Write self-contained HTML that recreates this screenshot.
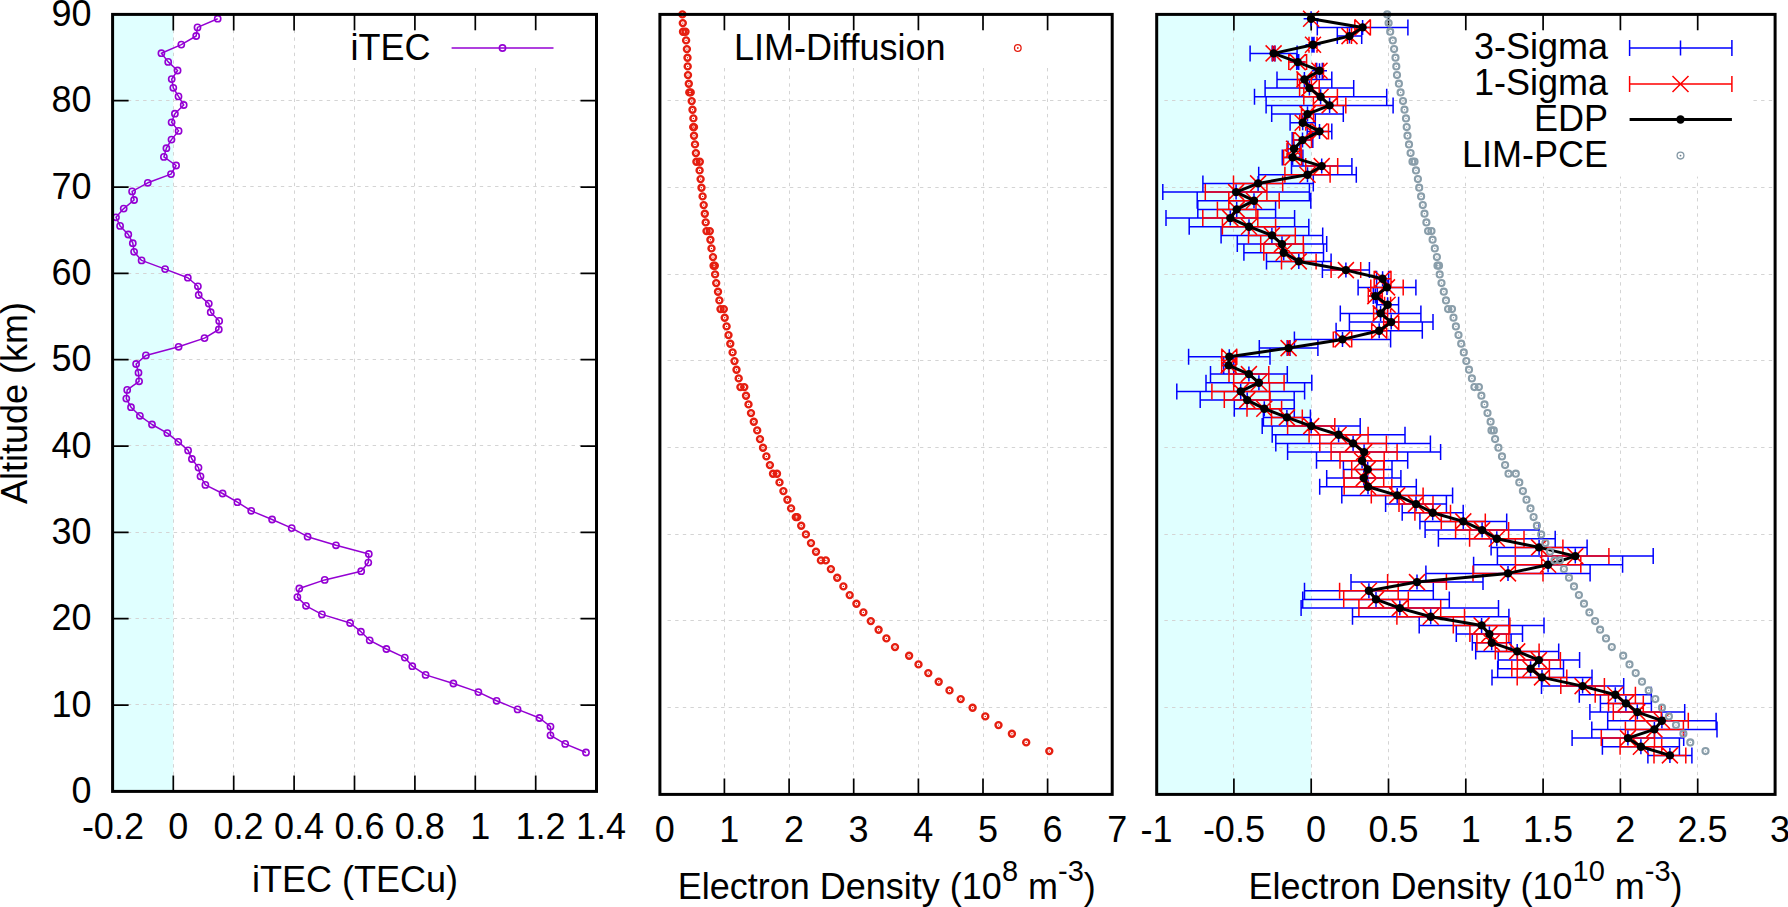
<!DOCTYPE html>
<html lang="en"><head><meta charset="utf-8"><title>Electron density profiles</title>
<style>html,body{margin:0;padding:0;background:#fff;}svg{display:block;}</style></head><body>
<svg width="1788" height="907" viewBox="0 0 1788 907" font-family="'Liberation Sans', sans-serif" font-size="36px">
<rect x="0" y="0" width="1788" height="907" fill="#fff"/>
<rect x="112.6" y="14.4" width="60.7" height="777" fill="#e0ffff"/>
<path d="M173.5 22.1V789.4M233.5 22.1V789.4M294.5 22.1V789.4M354.5 22.1V789.4M414.5 22.1V789.4M475.5 22.1V789.4M535.5 22.1V789.4M120.2 704.5H594.5M120.2 618.5H594.5M120.2 532.5H594.5M120.2 445.5H594.5M120.2 359.5H594.5M120.2 273.5H594.5M120.2 186.5H594.5M120.2 100.5H594.5" stroke="#d4d4d4" stroke-width="1" stroke-dasharray="3.4 4.25" fill="none"/>
<path d="M173.3 14.4v16M173.3 791.4v-16M233.7 14.4v16M233.7 791.4v-16M294.1 14.4v16M294.1 791.4v-16M354.5 14.4v16M354.5 791.4v-16M414.9 14.4v16M414.9 791.4v-16M475.3 14.4v16M475.3 791.4v-16M535.7 14.4v16M535.7 791.4v-16M112.6 705.1h16M596.5 705.1h-16M112.6 618.7h16M596.5 618.7h-16M112.6 532.4h16M596.5 532.4h-16M112.6 446.1h16M596.5 446.1h-16M112.6 359.7h16M596.5 359.7h-16M112.6 273.4h16M596.5 273.4h-16M112.6 187.1h16M596.5 187.1h-16M112.6 100.7h16M596.5 100.7h-16" stroke="#000" stroke-width="1.7" fill="none"/>
<rect x="338" y="30.5" width="236.5" height="36.1" fill="#fff"/>
<polyline points="217.7,18.7 197.5,27.4 196.2,36 181.3,44.6 161.4,53.2 168.2,61.9 177.6,70.5 171.7,79.1 173.3,87.8 178.5,96.4 183.7,105 174.9,113.7 171.6,122.3 178.6,130.9 171.5,139.6 166.4,148.2 163.9,156.9 176.1,165.5 171,174.1 147.8,182.8 132.1,191.4 134.1,200 123.7,208.6 116,217.3 120.1,225.9 128.3,234.5 132.8,243.2 134.1,251.8 141.6,260.4 165.1,269.1 187.8,277.7 197.9,286.3 198.7,295 208.8,303.6 210.7,312.2 219.2,320.9 218.8,329.5 204.5,338.1 178.6,346.8 145.9,355.4 136.1,364 138.5,372.7 139.1,381.3 127.2,389.9 126.3,398.6 131,407.2 139.9,415.8 152,424.5 167.3,433.1 178.3,441.8 188.1,450.4 191.9,459 198.5,467.6 200.5,476.3 205.4,484.9 222.6,493.5 237.4,502.2 251.2,510.8 272.1,519.5 291.7,528.1 307.6,536.7 336,545.3 368.8,554 368.3,562.6 361.2,571.2 324.7,579.9 299.3,588.5 297.4,597.1 306,605.8 321.9,614.4 350.1,623 360.9,631.7 369.7,640.3 386.4,649 404.8,657.6 412.3,666.2 425.6,674.9 453.4,683.5 478.4,692.1 496.6,700.8 517.6,709.4 539.5,718 550.5,726.6 550.5,735.3 565.2,743.9 586,752.5" fill="none" stroke="#9400d3" stroke-width="1.5" stroke-linejoin="round"/>
<g fill="none" stroke="#9400d3" stroke-width="1.6">
<circle cx="217.7" cy="18.7" r="3.1"/>
<circle cx="197.5" cy="27.4" r="3.1"/>
<circle cx="196.2" cy="36" r="3.1"/>
<circle cx="181.3" cy="44.6" r="3.1"/>
<circle cx="161.4" cy="53.2" r="3.1"/>
<circle cx="168.2" cy="61.9" r="3.1"/>
<circle cx="177.6" cy="70.5" r="3.1"/>
<circle cx="171.7" cy="79.1" r="3.1"/>
<circle cx="173.3" cy="87.8" r="3.1"/>
<circle cx="178.5" cy="96.4" r="3.1"/>
<circle cx="183.7" cy="105" r="3.1"/>
<circle cx="174.9" cy="113.7" r="3.1"/>
<circle cx="171.6" cy="122.3" r="3.1"/>
<circle cx="178.6" cy="130.9" r="3.1"/>
<circle cx="171.5" cy="139.6" r="3.1"/>
<circle cx="166.4" cy="148.2" r="3.1"/>
<circle cx="163.9" cy="156.9" r="3.1"/>
<circle cx="176.1" cy="165.5" r="3.1"/>
<circle cx="171" cy="174.1" r="3.1"/>
<circle cx="147.8" cy="182.8" r="3.1"/>
<circle cx="132.1" cy="191.4" r="3.1"/>
<circle cx="134.1" cy="200" r="3.1"/>
<circle cx="123.7" cy="208.6" r="3.1"/>
<circle cx="116" cy="217.3" r="3.1"/>
<circle cx="120.1" cy="225.9" r="3.1"/>
<circle cx="128.3" cy="234.5" r="3.1"/>
<circle cx="132.8" cy="243.2" r="3.1"/>
<circle cx="134.1" cy="251.8" r="3.1"/>
<circle cx="141.6" cy="260.4" r="3.1"/>
<circle cx="165.1" cy="269.1" r="3.1"/>
<circle cx="187.8" cy="277.7" r="3.1"/>
<circle cx="197.9" cy="286.3" r="3.1"/>
<circle cx="198.7" cy="295" r="3.1"/>
<circle cx="208.8" cy="303.6" r="3.1"/>
<circle cx="210.7" cy="312.2" r="3.1"/>
<circle cx="219.2" cy="320.9" r="3.1"/>
<circle cx="218.8" cy="329.5" r="3.1"/>
<circle cx="204.5" cy="338.1" r="3.1"/>
<circle cx="178.6" cy="346.8" r="3.1"/>
<circle cx="145.9" cy="355.4" r="3.1"/>
<circle cx="136.1" cy="364" r="3.1"/>
<circle cx="138.5" cy="372.7" r="3.1"/>
<circle cx="139.1" cy="381.3" r="3.1"/>
<circle cx="127.2" cy="389.9" r="3.1"/>
<circle cx="126.3" cy="398.6" r="3.1"/>
<circle cx="131" cy="407.2" r="3.1"/>
<circle cx="139.9" cy="415.8" r="3.1"/>
<circle cx="152" cy="424.5" r="3.1"/>
<circle cx="167.3" cy="433.1" r="3.1"/>
<circle cx="178.3" cy="441.8" r="3.1"/>
<circle cx="188.1" cy="450.4" r="3.1"/>
<circle cx="191.9" cy="459" r="3.1"/>
<circle cx="198.5" cy="467.6" r="3.1"/>
<circle cx="200.5" cy="476.3" r="3.1"/>
<circle cx="205.4" cy="484.9" r="3.1"/>
<circle cx="222.6" cy="493.5" r="3.1"/>
<circle cx="237.4" cy="502.2" r="3.1"/>
<circle cx="251.2" cy="510.8" r="3.1"/>
<circle cx="272.1" cy="519.5" r="3.1"/>
<circle cx="291.7" cy="528.1" r="3.1"/>
<circle cx="307.6" cy="536.7" r="3.1"/>
<circle cx="336" cy="545.3" r="3.1"/>
<circle cx="368.8" cy="554" r="3.1"/>
<circle cx="368.3" cy="562.6" r="3.1"/>
<circle cx="361.2" cy="571.2" r="3.1"/>
<circle cx="324.7" cy="579.9" r="3.1"/>
<circle cx="299.3" cy="588.5" r="3.1"/>
<circle cx="297.4" cy="597.1" r="3.1"/>
<circle cx="306" cy="605.8" r="3.1"/>
<circle cx="321.9" cy="614.4" r="3.1"/>
<circle cx="350.1" cy="623" r="3.1"/>
<circle cx="360.9" cy="631.7" r="3.1"/>
<circle cx="369.7" cy="640.3" r="3.1"/>
<circle cx="386.4" cy="649" r="3.1"/>
<circle cx="404.8" cy="657.6" r="3.1"/>
<circle cx="412.3" cy="666.2" r="3.1"/>
<circle cx="425.6" cy="674.9" r="3.1"/>
<circle cx="453.4" cy="683.5" r="3.1"/>
<circle cx="478.4" cy="692.1" r="3.1"/>
<circle cx="496.6" cy="700.8" r="3.1"/>
<circle cx="517.6" cy="709.4" r="3.1"/>
<circle cx="539.5" cy="718" r="3.1"/>
<circle cx="550.5" cy="726.6" r="3.1"/>
<circle cx="550.5" cy="735.3" r="3.1"/>
<circle cx="565.2" cy="743.9" r="3.1"/>
<circle cx="586" cy="752.5" r="3.1"/>
</g>
<path d="M451.6 48H553.5" stroke="#9400d3" stroke-width="1.5"/><circle cx="502.5" cy="48" r="3.1" fill="none" stroke="#9400d3" stroke-width="1.6"/>
<rect x="112.6" y="14.4" width="483.9" height="777" fill="none" stroke="#000" stroke-width="3"/>
<path d="M724.5 22.1V792.4M789.5 22.1V792.4M853.5 22.1V792.4M918.5 22.1V792.4M983.5 22.1V792.4M1047.5 22.1V792.4M667.5 707.5H1110.2M667.5 620.5H1110.2M667.5 534.5H1110.2M667.5 447.5H1110.2M667.5 360.5H1110.2M667.5 274.5H1110.2M667.5 187.5H1110.2M667.5 100.5H1110.2" stroke="#d4d4d4" stroke-width="1" stroke-dasharray="3.4 4.25" fill="none"/>
<path d="M724.4 14.4v16M724.4 794.4v-16M789.1 14.4v16M789.1 794.4v-16M853.7 14.4v16M853.7 794.4v-16M918.4 14.4v16M918.4 794.4v-16M983 14.4v16M983 794.4v-16M1047.6 14.4v16M1047.6 794.4v-16" stroke="#000" stroke-width="1.7" fill="none"/>
<rect x="676" y="30.5" width="414" height="37.5" fill="#fff"/>
<g fill="none" stroke="#e51e10" stroke-width="2.4">
<circle cx="682.4" cy="14.4" r="3.0"/>
<circle cx="682.8" cy="23.1" r="3.0"/>
<circle cx="683" cy="31.7" r="3.0"/>
<circle cx="685.5" cy="31.7" r="3.0"/>
<circle cx="686.1" cy="40.4" r="3.0"/>
<circle cx="686.9" cy="49.1" r="3.0"/>
<circle cx="687.5" cy="57.7" r="3.0"/>
<circle cx="687.7" cy="66.4" r="3.0"/>
<circle cx="688" cy="75.1" r="3.0"/>
<circle cx="688.8" cy="83.7" r="3.0"/>
<circle cx="689.3" cy="92.4" r="3.0"/>
<circle cx="690.7" cy="92.4" r="3.0"/>
<circle cx="691.7" cy="101.1" r="3.0"/>
<circle cx="692.5" cy="109.7" r="3.0"/>
<circle cx="693.4" cy="118.4" r="3.0"/>
<circle cx="693.2" cy="127.1" r="3.0"/>
<circle cx="694" cy="127.1" r="3.0"/>
<circle cx="694" cy="135.7" r="3.0"/>
<circle cx="695" cy="144.4" r="3.0"/>
<circle cx="695.9" cy="153.1" r="3.0"/>
<circle cx="696.4" cy="161.7" r="3.0"/>
<circle cx="699.8" cy="161.7" r="3.0"/>
<circle cx="699.6" cy="170.4" r="3.0"/>
<circle cx="700.6" cy="179.1" r="3.0"/>
<circle cx="701.5" cy="187.7" r="3.0"/>
<circle cx="702.6" cy="196.4" r="3.0"/>
<circle cx="703.7" cy="205.1" r="3.0"/>
<circle cx="704.8" cy="213.7" r="3.0"/>
<circle cx="705.7" cy="222.4" r="3.0"/>
<circle cx="706.5" cy="231.1" r="3.0"/>
<circle cx="709.8" cy="231.1" r="3.0"/>
<circle cx="710.4" cy="239.7" r="3.0"/>
<circle cx="711.5" cy="248.4" r="3.0"/>
<circle cx="713" cy="257.1" r="3.0"/>
<circle cx="713.6" cy="265.7" r="3.0"/>
<circle cx="714.8" cy="265.7" r="3.0"/>
<circle cx="715.1" cy="274.4" r="3.0"/>
<circle cx="716.2" cy="283.1" r="3.0"/>
<circle cx="718" cy="291.7" r="3.0"/>
<circle cx="719.4" cy="300.4" r="3.0"/>
<circle cx="720.5" cy="309.1" r="3.0"/>
<circle cx="723.8" cy="309.1" r="3.0"/>
<circle cx="724.7" cy="317.7" r="3.0"/>
<circle cx="726.6" cy="326.4" r="3.0"/>
<circle cx="728.5" cy="335.1" r="3.0"/>
<circle cx="730.3" cy="343.7" r="3.0"/>
<circle cx="732.6" cy="352.4" r="3.0"/>
<circle cx="734.5" cy="361.1" r="3.0"/>
<circle cx="736.5" cy="369.7" r="3.0"/>
<circle cx="738.7" cy="378.4" r="3.0"/>
<circle cx="740.4" cy="387.1" r="3.0"/>
<circle cx="744.3" cy="387.1" r="3.0"/>
<circle cx="746" cy="395.7" r="3.0"/>
<circle cx="748.5" cy="404.4" r="3.0"/>
<circle cx="751" cy="413.1" r="3.0"/>
<circle cx="753.8" cy="421.7" r="3.0"/>
<circle cx="757.2" cy="430.4" r="3.0"/>
<circle cx="760" cy="439.1" r="3.0"/>
<circle cx="763" cy="447.7" r="3.0"/>
<circle cx="766.4" cy="456.4" r="3.0"/>
<circle cx="769.9" cy="465.1" r="3.0"/>
<circle cx="773" cy="473.7" r="3.0"/>
<circle cx="777" cy="473.7" r="3.0"/>
<circle cx="779.5" cy="482.4" r="3.0"/>
<circle cx="783.4" cy="491.1" r="3.0"/>
<circle cx="787.4" cy="499.7" r="3.0"/>
<circle cx="791.1" cy="508.4" r="3.0"/>
<circle cx="795.8" cy="517.1" r="3.0"/>
<circle cx="797.2" cy="517.1" r="3.0"/>
<circle cx="801.2" cy="525.7" r="3.0"/>
<circle cx="805.9" cy="534.4" r="3.0"/>
<circle cx="811" cy="543.1" r="3.0"/>
<circle cx="816" cy="551.7" r="3.0"/>
<circle cx="820.9" cy="560.4" r="3.0"/>
<circle cx="825.8" cy="560.4" r="3.0"/>
<circle cx="830.9" cy="569.1" r="3.0"/>
<circle cx="837.2" cy="577.7" r="3.0"/>
<circle cx="843.4" cy="586.4" r="3.0"/>
<circle cx="849.7" cy="595.1" r="3.0"/>
<circle cx="856.4" cy="603.7" r="3.0"/>
<circle cx="863.4" cy="612.4" r="3.0"/>
<circle cx="870.8" cy="621.1" r="3.0"/>
<circle cx="878.6" cy="629.7" r="3.0"/>
<circle cx="886.4" cy="638.4" r="3.0"/>
<circle cx="895" cy="647.1" r="3.0"/>
<circle cx="909.1" cy="655.7" r="3.0"/>
<circle cx="918.5" cy="664.4" r="3.0"/>
<circle cx="928.3" cy="673.1" r="3.0"/>
<circle cx="938.7" cy="681.7" r="3.0"/>
<circle cx="949.5" cy="690.4" r="3.0"/>
<circle cx="960.7" cy="699.1" r="3.0"/>
<circle cx="972.6" cy="707.7" r="3.0"/>
<circle cx="985.3" cy="716.4" r="3.0"/>
<circle cx="998.5" cy="725.1" r="3.0"/>
<circle cx="1011.9" cy="733.7" r="3.0"/>
<circle cx="1026.2" cy="742.4" r="3.0"/>
<circle cx="1049.3" cy="751.1" r="3.0"/>
</g>
<g fill="#e51e10">
<circle cx="682.4" cy="14.4" r="0.7"/>
<circle cx="682.8" cy="23.1" r="0.7"/>
<circle cx="683" cy="31.7" r="0.7"/>
<circle cx="685.5" cy="31.7" r="0.7"/>
<circle cx="686.1" cy="40.4" r="0.7"/>
<circle cx="686.9" cy="49.1" r="0.7"/>
<circle cx="687.5" cy="57.7" r="0.7"/>
<circle cx="687.7" cy="66.4" r="0.7"/>
<circle cx="688" cy="75.1" r="0.7"/>
<circle cx="688.8" cy="83.7" r="0.7"/>
<circle cx="689.3" cy="92.4" r="0.7"/>
<circle cx="690.7" cy="92.4" r="0.7"/>
<circle cx="691.7" cy="101.1" r="0.7"/>
<circle cx="692.5" cy="109.7" r="0.7"/>
<circle cx="693.4" cy="118.4" r="0.7"/>
<circle cx="693.2" cy="127.1" r="0.7"/>
<circle cx="694" cy="127.1" r="0.7"/>
<circle cx="694" cy="135.7" r="0.7"/>
<circle cx="695" cy="144.4" r="0.7"/>
<circle cx="695.9" cy="153.1" r="0.7"/>
<circle cx="696.4" cy="161.7" r="0.7"/>
<circle cx="699.8" cy="161.7" r="0.7"/>
<circle cx="699.6" cy="170.4" r="0.7"/>
<circle cx="700.6" cy="179.1" r="0.7"/>
<circle cx="701.5" cy="187.7" r="0.7"/>
<circle cx="702.6" cy="196.4" r="0.7"/>
<circle cx="703.7" cy="205.1" r="0.7"/>
<circle cx="704.8" cy="213.7" r="0.7"/>
<circle cx="705.7" cy="222.4" r="0.7"/>
<circle cx="706.5" cy="231.1" r="0.7"/>
<circle cx="709.8" cy="231.1" r="0.7"/>
<circle cx="710.4" cy="239.7" r="0.7"/>
<circle cx="711.5" cy="248.4" r="0.7"/>
<circle cx="713" cy="257.1" r="0.7"/>
<circle cx="713.6" cy="265.7" r="0.7"/>
<circle cx="714.8" cy="265.7" r="0.7"/>
<circle cx="715.1" cy="274.4" r="0.7"/>
<circle cx="716.2" cy="283.1" r="0.7"/>
<circle cx="718" cy="291.7" r="0.7"/>
<circle cx="719.4" cy="300.4" r="0.7"/>
<circle cx="720.5" cy="309.1" r="0.7"/>
<circle cx="723.8" cy="309.1" r="0.7"/>
<circle cx="724.7" cy="317.7" r="0.7"/>
<circle cx="726.6" cy="326.4" r="0.7"/>
<circle cx="728.5" cy="335.1" r="0.7"/>
<circle cx="730.3" cy="343.7" r="0.7"/>
<circle cx="732.6" cy="352.4" r="0.7"/>
<circle cx="734.5" cy="361.1" r="0.7"/>
<circle cx="736.5" cy="369.7" r="0.7"/>
<circle cx="738.7" cy="378.4" r="0.7"/>
<circle cx="740.4" cy="387.1" r="0.7"/>
<circle cx="744.3" cy="387.1" r="0.7"/>
<circle cx="746" cy="395.7" r="0.7"/>
<circle cx="748.5" cy="404.4" r="0.7"/>
<circle cx="751" cy="413.1" r="0.7"/>
<circle cx="753.8" cy="421.7" r="0.7"/>
<circle cx="757.2" cy="430.4" r="0.7"/>
<circle cx="760" cy="439.1" r="0.7"/>
<circle cx="763" cy="447.7" r="0.7"/>
<circle cx="766.4" cy="456.4" r="0.7"/>
<circle cx="769.9" cy="465.1" r="0.7"/>
<circle cx="773" cy="473.7" r="0.7"/>
<circle cx="777" cy="473.7" r="0.7"/>
<circle cx="779.5" cy="482.4" r="0.7"/>
<circle cx="783.4" cy="491.1" r="0.7"/>
<circle cx="787.4" cy="499.7" r="0.7"/>
<circle cx="791.1" cy="508.4" r="0.7"/>
<circle cx="795.8" cy="517.1" r="0.7"/>
<circle cx="797.2" cy="517.1" r="0.7"/>
<circle cx="801.2" cy="525.7" r="0.7"/>
<circle cx="805.9" cy="534.4" r="0.7"/>
<circle cx="811" cy="543.1" r="0.7"/>
<circle cx="816" cy="551.7" r="0.7"/>
<circle cx="820.9" cy="560.4" r="0.7"/>
<circle cx="825.8" cy="560.4" r="0.7"/>
<circle cx="830.9" cy="569.1" r="0.7"/>
<circle cx="837.2" cy="577.7" r="0.7"/>
<circle cx="843.4" cy="586.4" r="0.7"/>
<circle cx="849.7" cy="595.1" r="0.7"/>
<circle cx="856.4" cy="603.7" r="0.7"/>
<circle cx="863.4" cy="612.4" r="0.7"/>
<circle cx="870.8" cy="621.1" r="0.7"/>
<circle cx="878.6" cy="629.7" r="0.7"/>
<circle cx="886.4" cy="638.4" r="0.7"/>
<circle cx="895" cy="647.1" r="0.7"/>
<circle cx="909.1" cy="655.7" r="0.7"/>
<circle cx="918.5" cy="664.4" r="0.7"/>
<circle cx="928.3" cy="673.1" r="0.7"/>
<circle cx="938.7" cy="681.7" r="0.7"/>
<circle cx="949.5" cy="690.4" r="0.7"/>
<circle cx="960.7" cy="699.1" r="0.7"/>
<circle cx="972.6" cy="707.7" r="0.7"/>
<circle cx="985.3" cy="716.4" r="0.7"/>
<circle cx="998.5" cy="725.1" r="0.7"/>
<circle cx="1011.9" cy="733.7" r="0.7"/>
<circle cx="1026.2" cy="742.4" r="0.7"/>
<circle cx="1049.3" cy="751.1" r="0.7"/>
</g>
<circle cx="1017.8" cy="48" r="3.3" fill="none" stroke="#e51e10" stroke-width="1.3"/><circle cx="1017.8" cy="48" r="0.9" fill="#e51e10"/>
<rect x="659.9" y="14.4" width="452.3" height="780" fill="none" stroke="#000" stroke-width="3"/>
<rect x="1156.7" y="14.4" width="154.5" height="780" fill="#e0ffff"/>
<path d="M1233.5 22.1V792.4M1311.5 22.1V792.4M1388.5 22.1V792.4M1465.5 22.1V792.4M1543.5 22.1V792.4M1620.5 22.1V792.4M1697.5 22.1V792.4M1164.4 707.5H1773.1M1164.4 620.5H1773.1M1164.4 534.5H1773.1M1164.4 447.5H1773.1M1164.4 360.5H1773.1M1164.4 274.5H1773.1M1164.4 187.5H1773.1M1164.4 100.5H1773.1" stroke="#d4d4d4" stroke-width="1" stroke-dasharray="3.4 4.25" fill="none"/>
<path d="M1233.9 14.4v16M1233.9 794.4v-16M1311.2 14.4v16M1311.2 794.4v-16M1388.5 14.4v16M1388.5 794.4v-16M1465.8 14.4v16M1465.8 794.4v-16M1543.1 14.4v16M1543.1 794.4v-16M1620.4 14.4v16M1620.4 794.4v-16M1697.7 14.4v16M1697.7 794.4v-16" stroke="#000" stroke-width="1.7" fill="none"/>
<rect x="1458" y="30.5" width="295" height="146.1" fill="#fff"/>
<path d="M1303.6 18.7h15M1311.1 11.2v15M1317.3 27.4H1407.9M1317.3 19.4v16M1407.9 19.4v16M1355.1 27.4h15M1362.6 19.9v15M1337.3 36.1H1361.7M1337.3 28.1v16M1361.7 28.1v16M1342 36.1h15M1349.5 28.6v15M1312 44.7H1314M1312 36.7v16M1314 36.7v16M1305.5 44.7h15M1313 37.2v15M1250.1 53.4H1297.1M1250.1 45.4v16M1297.1 45.4v16M1266.1 53.4h15M1273.6 45.9v15M1272.2 45.4v16M1275 45.4v16M1296.7 62.1H1298.7M1296.7 54.1v16M1298.7 54.1v16M1290.2 62.1h15M1297.7 54.6v15M1316.7 70.7H1322.3M1316.7 62.7v16M1322.3 62.7v16M1312 70.7h15M1319.5 63.2v15M1277 79.4H1331.8M1277 71.4v16M1331.8 71.4v16M1296.9 79.4h15M1304.4 71.9v15M1265.1 88.1H1353.7M1265.1 80.1v16M1353.7 80.1v16M1301.9 88.1h15M1309.4 80.6v15M1254.5 96.7H1386.7M1254.5 88.7v16M1386.7 88.7v16M1313.1 96.7h15M1320.6 89.2v15M1266.1 105.4H1393.1M1266.1 97.4v16M1393.1 97.4v16M1322.1 105.4h15M1329.6 97.9v15M1271.7 114.1H1343.3M1271.7 106.1v16M1343.3 106.1v16M1300 114.1h15M1307.5 106.6v15M1290.1 122.7H1315.3M1290.1 114.7v16M1315.3 114.7v16M1295.2 122.7h15M1302.7 115.2v15M1307.2 131.4H1331.8M1307.2 123.4v16M1331.8 123.4v16M1312 131.4h15M1319.5 123.9v15M1292.2 140.1H1312.8M1292.2 132.1v16M1312.8 132.1v16M1295 140.1h15M1302.5 132.6v15M1288 148.7H1300M1288 140.7v16M1300 140.7v16M1286.5 148.7h15M1294 141.2v15M1282.3 157.4H1302.9M1282.3 149.4v16M1302.9 149.4v16M1285.1 157.4h15M1292.6 149.9v15M1291.5 166.1H1351.9M1291.5 158.1v16M1351.9 158.1v16M1314.2 166.1h15M1321.7 158.6v15M1258.7 174.7H1356.3M1258.7 166.7v16M1356.3 166.7v16M1300 174.7h15M1307.5 167.2v15M1202.9 183.4H1313.3M1202.9 175.4v16M1313.3 175.4v16M1250.6 183.4h15M1258.1 175.9v15M1162.8 192.1H1309.4M1162.8 184.1v16M1309.4 184.1v16M1228.6 192.1h15M1236.1 184.6v15M1197.2 200.7H1310.8M1197.2 192.7v16M1310.8 192.7v16M1246.5 200.7h15M1254 193.2v15M1197.8 209.4H1275.6M1197.8 201.4v16M1275.6 201.4v16M1229.2 209.4h15M1236.7 201.9v15M1166 218.1H1294.6M1166 210.1v16M1294.6 210.1v16M1222.8 218.1h15M1230.3 210.6v15M1189.2 226.7H1308.8M1189.2 218.7v16M1308.8 218.7v16M1241.5 226.7h15M1249 219.2v15M1221.1 235.4H1322.7M1221.1 227.4v16M1322.7 227.4v16M1264.4 235.4h15M1271.9 227.9v15M1237.3 244.1H1326.7M1237.3 236.1v16M1326.7 236.1v16M1274.5 244.1h15M1282 236.6v15M1243.9 252.7H1323.5M1243.9 244.7v16M1323.5 244.7v16M1276.2 252.7h15M1283.7 245.2v15M1266.5 261.4H1331.1M1266.5 253.4v16M1331.1 253.4v16M1291.3 261.4h15M1298.8 253.9v15M1322.4 270.1H1369.4M1322.4 262.1v16M1369.4 262.1v16M1338.4 270.1h15M1345.9 262.6v15M1376.6 278.7H1388.6M1376.6 270.7v16M1388.6 270.7v16M1375.1 278.7h15M1382.6 271.2v15M1358.1 287.4H1415.9M1358.1 279.4v16M1415.9 279.4v16M1379.5 287.4h15M1387 279.9v15M1373.3 296.1H1377.3M1373.3 288.1v16M1377.3 288.1v16M1367.8 296.1h15M1375.3 288.6v15M1376.6 304.7H1398.6M1376.6 296.7v16M1398.6 296.7v16M1380.1 304.7h15M1387.6 297.2v15M1340.3 313.4H1420.9M1340.3 305.4v16M1420.9 305.4v16M1373.1 313.4h15M1380.6 305.9v15M1349.4 322.1H1433M1349.4 314.1v16M1433 314.1v16M1383.7 322.1h15M1391.2 314.6v15M1336.1 330.7H1422.3M1336.1 322.7v16M1422.3 322.7v16M1371.7 330.7h15M1379.2 323.2v15M1294.4 339.4H1390.6M1294.4 331.4v16M1390.6 331.4v16M1335 339.4h15M1342.5 331.9v15M1259.3 348.1H1317.9M1259.3 340.1v16M1317.9 340.1v16M1281.1 348.1h15M1288.6 340.6v15M1287.2 340.1v16M1290 340.1v16M1188.6 356.7H1270M1188.6 348.7v16M1270 348.7v16M1221.8 356.7h15M1229.3 349.2v15M1223.7 365.4H1233.7M1223.7 357.4v16M1233.7 357.4v16M1221.2 365.4h15M1228.7 357.9v15M1210.5 374.1H1287.3M1210.5 366.1v16M1287.3 366.1v16M1241.4 374.1h15M1248.9 366.6v15M1206 382.7H1311.8M1206 374.7v16M1311.8 374.7v16M1251.4 382.7h15M1258.9 375.2v15M1176.8 391.4H1304.6M1176.8 383.4v16M1304.6 383.4v16M1233.2 391.4h15M1240.7 383.9v15M1200.2 400.1H1294.2M1200.2 392.1v16M1294.2 392.1v16M1239.7 400.1h15M1247.2 392.6v15M1234.3 408.7H1294.3M1234.3 400.7v16M1294.3 400.7v16M1256.8 408.7h15M1264.3 401.2v15M1263.4 417.4H1310.4M1263.4 409.4v16M1310.4 409.4v16M1279.4 417.4h15M1286.9 409.9v15M1262.2 426.1H1360.2M1262.2 418.1v16M1360.2 418.1v16M1303.7 426.1h15M1311.2 418.6v15M1272.2 434.7H1405M1272.2 426.7v16M1405 426.7v16M1331.1 434.7h15M1338.6 427.2v15M1275.8 443.4H1430.4M1275.8 435.4v16M1430.4 435.4v16M1345.6 443.4h15M1353.1 435.9v15M1287.6 452.1H1440.6M1287.6 444.1v16M1440.6 444.1v16M1356.6 452.1h15M1364.1 444.6v15M1316.5 460.7H1407.7M1316.5 452.7v16M1407.7 452.7v16M1354.6 460.7h15M1362.1 453.2v15M1343.4 469.4H1392M1343.4 461.4v16M1392 461.4v16M1360.2 469.4h15M1367.7 461.9v15M1326.7 478.1H1400.9M1326.7 470.1v16M1400.9 470.1v16M1356.3 478.1h15M1363.8 470.6v15M1319.7 486.7H1416.3M1319.7 478.7v16M1416.3 478.7v16M1360.5 486.7h15M1368 479.2v15M1341.8 495.4H1452.6M1341.8 487.4v16M1452.6 487.4v16M1389.7 495.4h15M1397.2 487.9v15M1385.6 504.1H1446.4M1385.6 496.1v16M1446.4 496.1v16M1408.5 504.1h15M1416 496.6v15M1402.2 512.7H1463.2M1402.2 504.7v16M1463.2 504.7v16M1425.2 512.7h15M1432.7 505.2v15M1419.9 521.4H1506.7M1419.9 513.4v16M1506.7 513.4v16M1455.8 521.4h15M1463.3 513.9v15M1425.1 530.1H1539.1M1425.1 522.1v16M1539.1 522.1v16M1474.6 530.1h15M1482.1 522.6v15M1438.4 538.7H1555.2M1438.4 530.7v16M1555.2 530.7v16M1489.3 538.7h15M1496.8 531.2v15M1491.1 547.4H1587.1M1491.1 539.4v16M1587.1 539.4v16M1531.6 547.4h15M1539.1 539.9v15M1497.4 556.1H1653.2M1497.4 548.1v16M1653.2 548.1v16M1567.8 556.1h15M1575.3 548.6v15M1473.6 564.7H1622.6M1473.6 556.7v16M1622.6 556.7v16M1540.6 564.7h15M1548.1 557.2v15M1425.9 573.4H1590.1M1425.9 565.4v16M1590.1 565.4v16M1500.5 573.4h15M1508 565.9v15M1351 582.1H1483M1351 574.1v16M1483 574.1v16M1409.5 582.1h15M1417 574.6v15M1304.5 590.7H1433.3M1304.5 582.7v16M1433.3 582.7v16M1361.4 590.7h15M1368.9 583.2v15M1302.7 599.4H1449.3M1302.7 591.4v16M1449.3 591.4v16M1368.5 599.4h15M1376 591.9v15M1301.1 608.1H1498.5M1301.1 600.1v16M1498.5 600.1v16M1392.3 608.1h15M1399.8 600.6v15M1352.5 616.7H1508.9M1352.5 608.7v16M1508.9 608.7v16M1423.2 616.7h15M1430.7 609.2v15M1419.2 625.4H1544M1419.2 617.4v16M1544 617.4v16M1474.1 625.4h15M1481.6 617.9v15M1456.3 634.1H1522.5M1456.3 626.1v16M1522.5 626.1v16M1481.9 634.1h15M1489.4 626.6v15M1472.3 642.7H1511.1M1472.3 634.7v16M1511.1 634.7v16M1484.2 642.7h15M1491.7 635.2v15M1475.7 651.4H1558.7M1475.7 643.4v16M1558.7 643.4v16M1509.7 651.4h15M1517.2 643.9v15M1498.2 660.1H1579.6M1498.2 652.1v16M1579.6 652.1v16M1531.4 660.1h15M1538.9 652.6v15M1497.7 668.7H1563.5M1497.7 660.7v16M1563.5 660.7v16M1523.1 668.7h15M1530.6 661.2v15M1492 677.4H1592M1492 669.4v16M1592 669.4v16M1534.5 677.4h15M1542 669.9v15M1541.5 686.1H1623.7M1541.5 678.1v16M1623.7 678.1v16M1575.1 686.1h15M1582.6 678.6v15M1579.3 694.7H1651.3M1579.3 686.7v16M1651.3 686.7v16M1607.8 694.7h15M1615.3 687.2v15M1600.4 703.4H1651.4M1600.4 695.4v16M1651.4 695.4v16M1618.4 703.4h15M1625.9 695.9v15M1589.9 712.1H1684.7M1589.9 704.1v16M1684.7 704.1v16M1629.8 712.1h15M1637.3 704.6v15M1607.7 720.7H1716.1M1607.7 712.7v16M1716.1 712.7v16M1654.4 720.7h15M1661.9 713.2v15M1591.8 729.4H1717M1591.8 721.4v16M1717 721.4v16M1646.9 729.4h15M1654.4 721.9v15M1572.1 738.1H1683.7M1572.1 730.1v16M1683.7 730.1v16M1620.4 738.1h15M1627.9 730.6v15M1602.4 746.7H1679.4M1602.4 738.7v16M1679.4 738.7v16M1633.4 746.7h15M1640.9 739.2v15M1647.9 755.4H1691.9M1647.9 747.4v16M1691.9 747.4v16M1662.4 755.4h15M1669.9 747.9v15" fill="none" stroke="#0000ff" stroke-width="1.5"/>
<path d="M1303.1 10.7l16 16M1303.1 26.7l16 -16M1354.8 27.4H1370.4M1354.8 19.4v16M1370.4 19.4v16M1354.6 19.4l16 16M1354.6 35.4l16 -16M1347.5 36.1H1351.5M1347.5 28.1v16M1351.5 28.1v16M1341.5 28.1l16 16M1341.5 44.1l16 -16M1309 44.7H1317M1309 36.7v16M1317 36.7v16M1305 36.7l16 16M1305 52.7l16 -16M1272.6 53.4H1274.6M1272.6 45.4v16M1274.6 45.4v16M1265.6 45.4l16 16M1265.6 61.4l16 -16M1288.8 62.1H1306.6M1288.8 54.1v16M1306.6 54.1v16M1289.7 54.1l16 16M1289.7 70.1l16 -16M1315.5 70.7H1323.5M1315.5 62.7v16M1323.5 62.7v16M1311.5 62.7l16 16M1311.5 78.7l16 -16M1297.4 79.4H1311.4M1297.4 71.4v16M1311.4 71.4v16M1296.4 71.4l16 16M1296.4 87.4l16 -16M1299.6 88.1H1319.2M1299.6 80.1v16M1319.2 80.1v16M1301.4 80.1l16 16M1301.4 96.1l16 -16M1303.8 96.7H1337.4M1303.8 88.7v16M1337.4 88.7v16M1312.6 88.7l16 16M1312.6 104.7l16 -16M1313.4 105.4H1345.8M1313.4 97.4v16M1345.8 97.4v16M1321.6 97.4l16 16M1321.6 113.4l16 -16M1301.5 114.1H1313.5M1301.5 106.1v16M1313.5 106.1v16M1299.5 106.1l16 16M1299.5 122.1l16 -16M1299.7 122.7H1305.7M1299.7 114.7v16M1305.7 114.7v16M1294.7 114.7l16 16M1294.7 130.7l16 -16M1310.5 131.4H1328.5M1310.5 123.4v16M1328.5 123.4v16M1311.5 123.4l16 16M1311.5 139.4l16 -16M1293.5 140.1H1311.5M1293.5 132.1v16M1311.5 132.1v16M1294.5 132.1l16 16M1294.5 148.1l16 -16M1287 148.7H1301M1287 140.7v16M1301 140.7v16M1286 140.7l16 16M1286 156.7l16 -16M1283.6 157.4H1301.6M1283.6 149.4v16M1301.6 149.4v16M1284.6 149.4l16 16M1284.6 165.4l16 -16M1305.7 166.1H1337.7M1305.7 158.1v16M1337.7 158.1v16M1313.7 158.1l16 16M1313.7 174.1l16 -16M1284.9 174.7H1330.1M1284.9 166.7v16M1330.1 166.7v16M1299.5 166.7l16 16M1299.5 182.7l16 -16M1233.5 183.4H1282.7M1233.5 175.4v16M1282.7 175.4v16M1250.1 175.4l16 16M1250.1 191.4l16 -16M1205.3 192.1H1266.9M1205.3 184.1v16M1266.9 184.1v16M1228.1 184.1l16 16M1228.1 200.1l16 -16M1228.8 200.7H1279.2M1228.8 192.7v16M1279.2 192.7v16M1246 192.7l16 16M1246 208.7l16 -16M1217.4 209.4H1256M1217.4 201.4v16M1256 201.4v16M1228.7 201.4l16 16M1228.7 217.4l16 -16M1202.8 218.1H1257.8M1202.8 210.1v16M1257.8 210.1v16M1222.3 210.1l16 16M1222.3 226.1l16 -16M1222.4 226.7H1275.6M1222.4 218.7v16M1275.6 218.7v16M1241 218.7l16 16M1241 234.7l16 -16M1248.5 235.4H1295.3M1248.5 227.4v16M1295.3 227.4v16M1263.9 227.4l16 16M1263.9 243.4l16 -16M1260.7 244.1H1303.3M1260.7 236.1v16M1303.3 236.1v16M1274 236.1l16 16M1274 252.1l16 -16M1263.8 252.7H1303.6M1263.8 244.7v16M1303.6 244.7v16M1275.7 244.7l16 16M1275.7 260.7l16 -16M1281.5 261.4H1316.1M1281.5 253.4v16M1316.1 253.4v16M1290.8 253.4l16 16M1290.8 269.4l16 -16M1331.1 270.1H1360.7M1331.1 262.1v16M1360.7 262.1v16M1337.9 262.1l16 16M1337.9 278.1l16 -16M1374.2 278.7H1391M1374.2 270.7v16M1391 270.7v16M1374.6 270.7l16 16M1374.6 286.7l16 -16M1370.8 287.4H1403.2M1370.8 279.4v16M1403.2 279.4v16M1379 279.4l16 16M1379 295.4l16 -16M1368.3 296.1H1382.3M1368.3 288.1v16M1382.3 288.1v16M1367.3 288.1l16 16M1367.3 304.1l16 -16M1384.6 304.7H1390.6M1384.6 296.7v16M1390.6 296.7v16M1379.6 296.7l16 16M1379.6 312.7l16 -16M1373.6 313.4H1387.6M1373.6 305.4v16M1387.6 305.4v16M1372.6 305.4l16 16M1372.6 321.4l16 -16M1383.7 322.1H1398.7M1383.7 314.1v16M1398.7 314.1v16M1383.2 314.1l16 16M1383.2 330.1l16 -16M1371.7 330.7H1386.7M1371.7 322.7v16M1386.7 322.7v16M1371.2 322.7l16 16M1371.2 338.7l16 -16M1333.3 339.4H1351.7M1333.3 331.4v16M1351.7 331.4v16M1334.5 331.4l16 16M1334.5 347.4l16 -16M1287.6 348.1H1289.6M1287.6 340.1v16M1289.6 340.1v16M1280.6 340.1l16 16M1280.6 356.1l16 -16M1221.8 356.7H1236.8M1221.8 348.7v16M1236.8 348.7v16M1221.3 348.7l16 16M1221.3 364.7l16 -16M1221.7 365.4H1235.7M1221.7 357.4v16M1235.7 357.4v16M1220.7 357.4l16 16M1220.7 373.4l16 -16M1229 374.1H1268.8M1229 366.1v16M1268.8 366.1v16M1240.9 366.1l16 16M1240.9 382.1l16 -16M1233.7 382.7H1284.1M1233.7 374.7v16M1284.1 374.7v16M1250.9 374.7l16 16M1250.9 390.7l16 -16M1211.9 391.4H1269.5M1211.9 383.4v16M1269.5 383.4v16M1232.7 383.4l16 16M1232.7 399.4l16 -16M1224.3 400.1H1270.1M1224.3 392.1v16M1270.1 392.1v16M1239.2 392.1l16 16M1239.2 408.1l16 -16M1247 408.7H1281.6M1247 400.7v16M1281.6 400.7v16M1256.3 400.7l16 16M1256.3 416.7l16 -16M1271.5 417.4H1302.3M1271.5 409.4v16M1302.3 409.4v16M1278.9 409.4l16 16M1278.9 425.4l16 -16M1287.6 426.1H1334.8M1287.6 418.1v16M1334.8 418.1v16M1303.2 418.1l16 16M1303.2 434.1l16 -16M1309.1 434.7H1368.1M1309.1 426.7v16M1368.1 426.7v16M1330.6 426.7l16 16M1330.6 442.7l16 -16M1319.8 443.4H1386.4M1319.8 435.4v16M1386.4 435.4v16M1345.1 435.4l16 16M1345.1 451.4l16 -16M1331.1 452.1H1397.1M1331.1 444.1v16M1397.1 444.1v16M1356.1 444.1l16 16M1356.1 460.1l16 -16M1340 460.7H1384.2M1340 452.7v16M1384.2 452.7v16M1354.1 452.7l16 16M1354.1 468.7l16 -16M1351.7 469.4H1383.7M1351.7 461.4v16M1383.7 461.4v16M1359.7 461.4l16 16M1359.7 477.4l16 -16M1343.9 478.1H1383.7M1343.9 470.1v16M1383.7 470.1v16M1355.8 470.1l16 16M1355.8 486.1l16 -16M1344.2 486.7H1391.8M1344.2 478.7v16M1391.8 478.7v16M1360 478.7l16 16M1360 494.7l16 -16M1371.3 495.4H1423.1M1371.3 487.4v16M1423.1 487.4v16M1389.2 487.4l16 16M1389.2 503.4l16 -16M1399 504.1H1433M1399 496.1v16M1433 496.1v16M1408 496.1l16 16M1408 512.1l16 -16M1414.9 512.7H1450.5M1414.9 504.7v16M1450.5 504.7v16M1424.7 504.7l16 16M1424.7 520.7l16 -16M1441.3 521.4H1485.3M1441.3 513.4v16M1485.3 513.4v16M1455.3 513.4l16 16M1455.3 529.4l16 -16M1455.6 530.1H1508.6M1455.6 522.1v16M1508.6 522.1v16M1474.1 522.1l16 16M1474.1 538.1l16 -16M1469.6 538.7H1524M1469.6 530.7v16M1524 530.7v16M1488.8 530.7l16 16M1488.8 546.7l16 -16M1515.3 547.4H1562.9M1515.3 539.4v16M1562.9 539.4v16M1531.1 539.4l16 16M1531.1 555.4l16 -16M1541.7 556.1H1608.9M1541.7 548.1v16M1608.9 548.1v16M1567.3 548.1l16 16M1567.3 564.1l16 -16M1515.4 564.7H1580.8M1515.4 556.7v16M1580.8 556.7v16M1540.1 556.7l16 16M1540.1 572.7l16 -16M1473 573.4H1543M1473 565.4v16M1543 565.4v16M1500 565.4l16 16M1500 581.4l16 -16M1387.6 582.1H1446.4M1387.6 574.1v16M1446.4 574.1v16M1409 574.1l16 16M1409 590.1l16 -16M1339.6 590.7H1398.2M1339.6 582.7v16M1398.2 582.7v16M1360.9 582.7l16 16M1360.9 598.7l16 -16M1343.7 599.4H1408.3M1343.7 591.4v16M1408.3 591.4v16M1368 591.4l16 16M1368 607.4l16 -16M1358.9 608.1H1440.7M1358.9 600.1v16M1440.7 600.1v16M1391.8 600.1l16 16M1391.8 616.1l16 -16M1396.9 616.7H1464.5M1396.9 608.7v16M1464.5 608.7v16M1422.7 608.7l16 16M1422.7 624.7l16 -16M1453.3 625.4H1509.9M1453.3 617.4v16M1509.9 617.4v16M1473.6 617.4l16 16M1473.6 633.4l16 -16M1469.9 634.1H1508.9M1469.9 626.1v16M1508.9 626.1v16M1481.4 626.1l16 16M1481.4 642.1l16 -16M1476.9 642.7H1506.5M1476.9 634.7v16M1506.5 634.7v16M1483.7 634.7l16 16M1483.7 650.7l16 -16M1495.3 651.4H1539.1M1495.3 643.4v16M1539.1 643.4v16M1509.2 643.4l16 16M1509.2 659.4l16 -16M1517.4 660.1H1560.4M1517.4 652.1v16M1560.4 652.1v16M1530.9 652.1l16 16M1530.9 668.1l16 -16M1511.8 668.7H1549.4M1511.8 660.7v16M1549.4 660.7v16M1522.6 660.7l16 16M1522.6 676.7l16 -16M1517.2 677.4H1566.8M1517.2 669.4v16M1566.8 669.4v16M1534 669.4l16 16M1534 685.4l16 -16M1560.8 686.1H1604.4M1560.8 678.1v16M1604.4 678.1v16M1574.6 678.1l16 16M1574.6 694.1l16 -16M1595.2 694.7H1635.4M1595.2 686.7v16M1635.4 686.7v16M1607.3 686.7l16 16M1607.3 702.7l16 -16M1608.5 703.4H1643.3M1608.5 695.4v16M1643.3 695.4v16M1617.9 695.4l16 16M1617.9 711.4l16 -16M1613.3 712.1H1661.3M1613.3 704.1v16M1661.3 704.1v16M1629.3 704.1l16 16M1629.3 720.1l16 -16M1635.5 720.7H1688.3M1635.5 712.7v16M1688.3 712.7v16M1653.9 712.7l16 16M1653.9 728.7l16 -16M1625.4 729.4H1683.4M1625.4 721.4v16M1683.4 721.4v16M1646.4 721.4l16 16M1646.4 737.4l16 -16M1601.3 738.1H1654.5M1601.3 730.1v16M1654.5 730.1v16M1619.9 730.1l16 16M1619.9 746.1l16 -16M1620.1 746.7H1661.7M1620.1 738.7v16M1661.7 738.7v16M1632.9 738.7l16 16M1632.9 754.7l16 -16M1654 755.4H1685.8M1654 747.4v16M1685.8 747.4v16M1661.9 747.4l16 16M1661.9 763.4l16 -16" fill="none" stroke="#ff0000" stroke-width="1.5"/>
<polyline points="1311.1,18.7 1362.6,27.4 1349.5,36.1 1313,44.7 1273.6,53.4 1297.7,62.1 1319.5,70.7 1304.4,79.4 1309.4,88.1 1320.6,96.7 1329.6,105.4 1307.5,114.1 1302.7,122.7 1319.5,131.4 1302.5,140.1 1294,148.7 1292.6,157.4 1321.7,166.1 1307.5,174.7 1258.1,183.4 1236.1,192.1 1254,200.7 1236.7,209.4 1230.3,218.1 1249,226.7 1271.9,235.4 1282,244.1 1283.7,252.7 1298.8,261.4 1345.9,270.1 1382.6,278.7 1387,287.4 1375.3,296.1 1387.6,304.7 1380.6,313.4 1391.2,322.1 1379.2,330.7 1342.5,339.4 1288.6,348.1 1229.3,356.7 1228.7,365.4 1248.9,374.1 1258.9,382.7 1240.7,391.4 1247.2,400.1 1264.3,408.7 1286.9,417.4 1311.2,426.1 1338.6,434.7 1353.1,443.4 1364.1,452.1 1362.1,460.7 1367.7,469.4 1363.8,478.1 1368,486.7 1397.2,495.4 1416,504.1 1432.7,512.7 1463.3,521.4 1482.1,530.1 1496.8,538.7 1539.1,547.4 1575.3,556.1 1548.1,564.7 1508,573.4 1417,582.1 1368.9,590.7 1376,599.4 1399.8,608.1 1430.7,616.7 1481.6,625.4 1489.4,634.1 1491.7,642.7 1517.2,651.4 1538.9,660.1 1530.6,668.7 1542,677.4 1582.6,686.1 1615.3,694.7 1625.9,703.4 1637.3,712.1 1661.9,720.7 1654.4,729.4 1627.9,738.1 1640.9,746.7 1669.9,755.4" fill="none" stroke="#000" stroke-width="3" stroke-linejoin="round"/>
<g fill="#000">
<circle cx="1311.1" cy="18.7" r="4.2"/>
<circle cx="1362.6" cy="27.4" r="4.2"/>
<circle cx="1349.5" cy="36.1" r="4.2"/>
<circle cx="1313" cy="44.7" r="4.2"/>
<circle cx="1273.6" cy="53.4" r="4.2"/>
<circle cx="1297.7" cy="62.1" r="4.2"/>
<circle cx="1319.5" cy="70.7" r="4.2"/>
<circle cx="1304.4" cy="79.4" r="4.2"/>
<circle cx="1309.4" cy="88.1" r="4.2"/>
<circle cx="1320.6" cy="96.7" r="4.2"/>
<circle cx="1329.6" cy="105.4" r="4.2"/>
<circle cx="1307.5" cy="114.1" r="4.2"/>
<circle cx="1302.7" cy="122.7" r="4.2"/>
<circle cx="1319.5" cy="131.4" r="4.2"/>
<circle cx="1302.5" cy="140.1" r="4.2"/>
<circle cx="1294" cy="148.7" r="4.2"/>
<circle cx="1292.6" cy="157.4" r="4.2"/>
<circle cx="1321.7" cy="166.1" r="4.2"/>
<circle cx="1307.5" cy="174.7" r="4.2"/>
<circle cx="1258.1" cy="183.4" r="4.2"/>
<circle cx="1236.1" cy="192.1" r="4.2"/>
<circle cx="1254" cy="200.7" r="4.2"/>
<circle cx="1236.7" cy="209.4" r="4.2"/>
<circle cx="1230.3" cy="218.1" r="4.2"/>
<circle cx="1249" cy="226.7" r="4.2"/>
<circle cx="1271.9" cy="235.4" r="4.2"/>
<circle cx="1282" cy="244.1" r="4.2"/>
<circle cx="1283.7" cy="252.7" r="4.2"/>
<circle cx="1298.8" cy="261.4" r="4.2"/>
<circle cx="1345.9" cy="270.1" r="4.2"/>
<circle cx="1382.6" cy="278.7" r="4.2"/>
<circle cx="1387" cy="287.4" r="4.2"/>
<circle cx="1375.3" cy="296.1" r="4.2"/>
<circle cx="1387.6" cy="304.7" r="4.2"/>
<circle cx="1380.6" cy="313.4" r="4.2"/>
<circle cx="1391.2" cy="322.1" r="4.2"/>
<circle cx="1379.2" cy="330.7" r="4.2"/>
<circle cx="1342.5" cy="339.4" r="4.2"/>
<circle cx="1288.6" cy="348.1" r="4.2"/>
<circle cx="1229.3" cy="356.7" r="4.2"/>
<circle cx="1228.7" cy="365.4" r="4.2"/>
<circle cx="1248.9" cy="374.1" r="4.2"/>
<circle cx="1258.9" cy="382.7" r="4.2"/>
<circle cx="1240.7" cy="391.4" r="4.2"/>
<circle cx="1247.2" cy="400.1" r="4.2"/>
<circle cx="1264.3" cy="408.7" r="4.2"/>
<circle cx="1286.9" cy="417.4" r="4.2"/>
<circle cx="1311.2" cy="426.1" r="4.2"/>
<circle cx="1338.6" cy="434.7" r="4.2"/>
<circle cx="1353.1" cy="443.4" r="4.2"/>
<circle cx="1364.1" cy="452.1" r="4.2"/>
<circle cx="1362.1" cy="460.7" r="4.2"/>
<circle cx="1367.7" cy="469.4" r="4.2"/>
<circle cx="1363.8" cy="478.1" r="4.2"/>
<circle cx="1368" cy="486.7" r="4.2"/>
<circle cx="1397.2" cy="495.4" r="4.2"/>
<circle cx="1416" cy="504.1" r="4.2"/>
<circle cx="1432.7" cy="512.7" r="4.2"/>
<circle cx="1463.3" cy="521.4" r="4.2"/>
<circle cx="1482.1" cy="530.1" r="4.2"/>
<circle cx="1496.8" cy="538.7" r="4.2"/>
<circle cx="1539.1" cy="547.4" r="4.2"/>
<circle cx="1575.3" cy="556.1" r="4.2"/>
<circle cx="1548.1" cy="564.7" r="4.2"/>
<circle cx="1508" cy="573.4" r="4.2"/>
<circle cx="1417" cy="582.1" r="4.2"/>
<circle cx="1368.9" cy="590.7" r="4.2"/>
<circle cx="1376" cy="599.4" r="4.2"/>
<circle cx="1399.8" cy="608.1" r="4.2"/>
<circle cx="1430.7" cy="616.7" r="4.2"/>
<circle cx="1481.6" cy="625.4" r="4.2"/>
<circle cx="1489.4" cy="634.1" r="4.2"/>
<circle cx="1491.7" cy="642.7" r="4.2"/>
<circle cx="1517.2" cy="651.4" r="4.2"/>
<circle cx="1538.9" cy="660.1" r="4.2"/>
<circle cx="1530.6" cy="668.7" r="4.2"/>
<circle cx="1542" cy="677.4" r="4.2"/>
<circle cx="1582.6" cy="686.1" r="4.2"/>
<circle cx="1615.3" cy="694.7" r="4.2"/>
<circle cx="1625.9" cy="703.4" r="4.2"/>
<circle cx="1637.3" cy="712.1" r="4.2"/>
<circle cx="1661.9" cy="720.7" r="4.2"/>
<circle cx="1654.4" cy="729.4" r="4.2"/>
<circle cx="1627.9" cy="738.1" r="4.2"/>
<circle cx="1640.9" cy="746.7" r="4.2"/>
<circle cx="1669.9" cy="755.4" r="4.2"/>
</g>
<g fill="none" stroke="#8a9eaa" stroke-width="2.1">
<circle cx="1387.2" cy="14.4" r="3.05"/>
<circle cx="1388.6" cy="23.1" r="3.05"/>
<circle cx="1390.2" cy="31.7" r="3.05"/>
<circle cx="1392.8" cy="40.4" r="3.05"/>
<circle cx="1394.1" cy="49.1" r="3.05"/>
<circle cx="1395.5" cy="57.7" r="3.05"/>
<circle cx="1396.3" cy="66.4" r="3.05"/>
<circle cx="1397" cy="75.1" r="3.05"/>
<circle cx="1398.9" cy="83.7" r="3.05"/>
<circle cx="1400.6" cy="92.4" r="3.05"/>
<circle cx="1403" cy="101.1" r="3.05"/>
<circle cx="1404.5" cy="109.7" r="3.05"/>
<circle cx="1406" cy="118.4" r="3.05"/>
<circle cx="1406.7" cy="127.1" r="3.05"/>
<circle cx="1407.5" cy="135.7" r="3.05"/>
<circle cx="1409" cy="144.4" r="3.05"/>
<circle cx="1410.6" cy="153.1" r="3.05"/>
<circle cx="1412.5" cy="161.7" r="3.05"/>
<circle cx="1414.5" cy="161.7" r="3.05"/>
<circle cx="1416" cy="170.4" r="3.05"/>
<circle cx="1417.9" cy="179.1" r="3.05"/>
<circle cx="1419.2" cy="187.7" r="3.05"/>
<circle cx="1421.1" cy="196.4" r="3.05"/>
<circle cx="1422.8" cy="205.1" r="3.05"/>
<circle cx="1424.5" cy="213.7" r="3.05"/>
<circle cx="1426.4" cy="222.4" r="3.05"/>
<circle cx="1428.1" cy="231.1" r="3.05"/>
<circle cx="1431.5" cy="231.1" r="3.05"/>
<circle cx="1432.6" cy="239.7" r="3.05"/>
<circle cx="1434.8" cy="248.4" r="3.05"/>
<circle cx="1436.9" cy="257.1" r="3.05"/>
<circle cx="1437.5" cy="265.7" r="3.05"/>
<circle cx="1439" cy="265.7" r="3.05"/>
<circle cx="1439.7" cy="274.4" r="3.05"/>
<circle cx="1441.5" cy="283.1" r="3.05"/>
<circle cx="1443.8" cy="291.7" r="3.05"/>
<circle cx="1446" cy="300.4" r="3.05"/>
<circle cx="1448.1" cy="309.1" r="3.05"/>
<circle cx="1452" cy="309.1" r="3.05"/>
<circle cx="1453.5" cy="317.7" r="3.05"/>
<circle cx="1455.9" cy="326.4" r="3.05"/>
<circle cx="1458.5" cy="335.1" r="3.05"/>
<circle cx="1461.2" cy="343.7" r="3.05"/>
<circle cx="1463.8" cy="352.4" r="3.05"/>
<circle cx="1466.3" cy="361.1" r="3.05"/>
<circle cx="1469" cy="369.7" r="3.05"/>
<circle cx="1471.9" cy="378.4" r="3.05"/>
<circle cx="1474.4" cy="387.1" r="3.05"/>
<circle cx="1478.9" cy="387.1" r="3.05"/>
<circle cx="1481.4" cy="395.7" r="3.05"/>
<circle cx="1484.5" cy="404.4" r="3.05"/>
<circle cx="1487.5" cy="413.1" r="3.05"/>
<circle cx="1490.6" cy="421.7" r="3.05"/>
<circle cx="1491.5" cy="430.4" r="3.05"/>
<circle cx="1493.8" cy="430.4" r="3.05"/>
<circle cx="1495.1" cy="439.1" r="3.05"/>
<circle cx="1498.4" cy="447.7" r="3.05"/>
<circle cx="1502" cy="456.4" r="3.05"/>
<circle cx="1505.1" cy="465.1" r="3.05"/>
<circle cx="1508.5" cy="473.7" r="3.05"/>
<circle cx="1515.8" cy="473.7" r="3.05"/>
<circle cx="1519.3" cy="482.4" r="3.05"/>
<circle cx="1522.9" cy="491.1" r="3.05"/>
<circle cx="1526.5" cy="499.7" r="3.05"/>
<circle cx="1530.5" cy="508.4" r="3.05"/>
<circle cx="1533.6" cy="517.1" r="3.05"/>
<circle cx="1536.9" cy="525.7" r="3.05"/>
<circle cx="1541.2" cy="534.4" r="3.05"/>
<circle cx="1545.4" cy="543.1" r="3.05"/>
<circle cx="1550" cy="551.7" r="3.05"/>
<circle cx="1554.5" cy="560.4" r="3.05"/>
<circle cx="1559.9" cy="560.4" r="3.05"/>
<circle cx="1563.9" cy="569.1" r="3.05"/>
<circle cx="1569" cy="577.7" r="3.05"/>
<circle cx="1574" cy="586.4" r="3.05"/>
<circle cx="1578.9" cy="595.1" r="3.05"/>
<circle cx="1584" cy="603.7" r="3.05"/>
<circle cx="1589.4" cy="612.4" r="3.05"/>
<circle cx="1595.1" cy="621.1" r="3.05"/>
<circle cx="1600.1" cy="629.7" r="3.05"/>
<circle cx="1606" cy="638.4" r="3.05"/>
<circle cx="1611.8" cy="647.1" r="3.05"/>
<circle cx="1623.2" cy="655.7" r="3.05"/>
<circle cx="1629.5" cy="664.4" r="3.05"/>
<circle cx="1635.7" cy="673.1" r="3.05"/>
<circle cx="1642" cy="681.7" r="3.05"/>
<circle cx="1648.7" cy="690.4" r="3.05"/>
<circle cx="1655.3" cy="699.1" r="3.05"/>
<circle cx="1662" cy="707.7" r="3.05"/>
<circle cx="1668.9" cy="716.4" r="3.05"/>
<circle cx="1676" cy="725.1" r="3.05"/>
<circle cx="1683.4" cy="733.7" r="3.05"/>
<circle cx="1690.3" cy="742.4" r="3.05"/>
<circle cx="1705.5" cy="751.1" r="3.05"/>
</g>
<g fill="#8a9eaa">
<circle cx="1387.2" cy="14.4" r="0.65"/>
<circle cx="1388.6" cy="23.1" r="0.65"/>
<circle cx="1390.2" cy="31.7" r="0.65"/>
<circle cx="1392.8" cy="40.4" r="0.65"/>
<circle cx="1394.1" cy="49.1" r="0.65"/>
<circle cx="1395.5" cy="57.7" r="0.65"/>
<circle cx="1396.3" cy="66.4" r="0.65"/>
<circle cx="1397" cy="75.1" r="0.65"/>
<circle cx="1398.9" cy="83.7" r="0.65"/>
<circle cx="1400.6" cy="92.4" r="0.65"/>
<circle cx="1403" cy="101.1" r="0.65"/>
<circle cx="1404.5" cy="109.7" r="0.65"/>
<circle cx="1406" cy="118.4" r="0.65"/>
<circle cx="1406.7" cy="127.1" r="0.65"/>
<circle cx="1407.5" cy="135.7" r="0.65"/>
<circle cx="1409" cy="144.4" r="0.65"/>
<circle cx="1410.6" cy="153.1" r="0.65"/>
<circle cx="1412.5" cy="161.7" r="0.65"/>
<circle cx="1414.5" cy="161.7" r="0.65"/>
<circle cx="1416" cy="170.4" r="0.65"/>
<circle cx="1417.9" cy="179.1" r="0.65"/>
<circle cx="1419.2" cy="187.7" r="0.65"/>
<circle cx="1421.1" cy="196.4" r="0.65"/>
<circle cx="1422.8" cy="205.1" r="0.65"/>
<circle cx="1424.5" cy="213.7" r="0.65"/>
<circle cx="1426.4" cy="222.4" r="0.65"/>
<circle cx="1428.1" cy="231.1" r="0.65"/>
<circle cx="1431.5" cy="231.1" r="0.65"/>
<circle cx="1432.6" cy="239.7" r="0.65"/>
<circle cx="1434.8" cy="248.4" r="0.65"/>
<circle cx="1436.9" cy="257.1" r="0.65"/>
<circle cx="1437.5" cy="265.7" r="0.65"/>
<circle cx="1439" cy="265.7" r="0.65"/>
<circle cx="1439.7" cy="274.4" r="0.65"/>
<circle cx="1441.5" cy="283.1" r="0.65"/>
<circle cx="1443.8" cy="291.7" r="0.65"/>
<circle cx="1446" cy="300.4" r="0.65"/>
<circle cx="1448.1" cy="309.1" r="0.65"/>
<circle cx="1452" cy="309.1" r="0.65"/>
<circle cx="1453.5" cy="317.7" r="0.65"/>
<circle cx="1455.9" cy="326.4" r="0.65"/>
<circle cx="1458.5" cy="335.1" r="0.65"/>
<circle cx="1461.2" cy="343.7" r="0.65"/>
<circle cx="1463.8" cy="352.4" r="0.65"/>
<circle cx="1466.3" cy="361.1" r="0.65"/>
<circle cx="1469" cy="369.7" r="0.65"/>
<circle cx="1471.9" cy="378.4" r="0.65"/>
<circle cx="1474.4" cy="387.1" r="0.65"/>
<circle cx="1478.9" cy="387.1" r="0.65"/>
<circle cx="1481.4" cy="395.7" r="0.65"/>
<circle cx="1484.5" cy="404.4" r="0.65"/>
<circle cx="1487.5" cy="413.1" r="0.65"/>
<circle cx="1490.6" cy="421.7" r="0.65"/>
<circle cx="1491.5" cy="430.4" r="0.65"/>
<circle cx="1493.8" cy="430.4" r="0.65"/>
<circle cx="1495.1" cy="439.1" r="0.65"/>
<circle cx="1498.4" cy="447.7" r="0.65"/>
<circle cx="1502" cy="456.4" r="0.65"/>
<circle cx="1505.1" cy="465.1" r="0.65"/>
<circle cx="1508.5" cy="473.7" r="0.65"/>
<circle cx="1515.8" cy="473.7" r="0.65"/>
<circle cx="1519.3" cy="482.4" r="0.65"/>
<circle cx="1522.9" cy="491.1" r="0.65"/>
<circle cx="1526.5" cy="499.7" r="0.65"/>
<circle cx="1530.5" cy="508.4" r="0.65"/>
<circle cx="1533.6" cy="517.1" r="0.65"/>
<circle cx="1536.9" cy="525.7" r="0.65"/>
<circle cx="1541.2" cy="534.4" r="0.65"/>
<circle cx="1545.4" cy="543.1" r="0.65"/>
<circle cx="1550" cy="551.7" r="0.65"/>
<circle cx="1554.5" cy="560.4" r="0.65"/>
<circle cx="1559.9" cy="560.4" r="0.65"/>
<circle cx="1563.9" cy="569.1" r="0.65"/>
<circle cx="1569" cy="577.7" r="0.65"/>
<circle cx="1574" cy="586.4" r="0.65"/>
<circle cx="1578.9" cy="595.1" r="0.65"/>
<circle cx="1584" cy="603.7" r="0.65"/>
<circle cx="1589.4" cy="612.4" r="0.65"/>
<circle cx="1595.1" cy="621.1" r="0.65"/>
<circle cx="1600.1" cy="629.7" r="0.65"/>
<circle cx="1606" cy="638.4" r="0.65"/>
<circle cx="1611.8" cy="647.1" r="0.65"/>
<circle cx="1623.2" cy="655.7" r="0.65"/>
<circle cx="1629.5" cy="664.4" r="0.65"/>
<circle cx="1635.7" cy="673.1" r="0.65"/>
<circle cx="1642" cy="681.7" r="0.65"/>
<circle cx="1648.7" cy="690.4" r="0.65"/>
<circle cx="1655.3" cy="699.1" r="0.65"/>
<circle cx="1662" cy="707.7" r="0.65"/>
<circle cx="1668.9" cy="716.4" r="0.65"/>
<circle cx="1676" cy="725.1" r="0.65"/>
<circle cx="1683.4" cy="733.7" r="0.65"/>
<circle cx="1690.3" cy="742.4" r="0.65"/>
<circle cx="1705.5" cy="751.1" r="0.65"/>
</g>
<path d="M1629.6 48H1731.9M1629.6 40v16M1731.9 40v16M1680.5 40.5v15M1673 48h15" fill="none" stroke="#0000ff" stroke-width="1.5"/>
<path d="M1629.6 84H1731.9M1629.6 76v16M1731.9 76v16M1672.5 76l16 16M1672.5 92l16 -16" fill="none" stroke="#ff0000" stroke-width="1.5"/>
<path d="M1629.6 119.5H1731.9" stroke="#000" stroke-width="3"/><circle cx="1680.5" cy="119.5" r="4.2" fill="#000"/>
<circle cx="1680.5" cy="155.6" r="3.4" fill="none" stroke="#8498a5" stroke-width="1.3"/><circle cx="1680.5" cy="155.6" r="0.9" fill="#6b7c88"/>
<rect x="1156.7" y="14.4" width="618.4" height="780" fill="none" stroke="#000" stroke-width="3"/>
<g fill="#000">
<text x="91.6" y="803.1" text-anchor="end">0</text>
<text x="91.6" y="716.8" text-anchor="end">10</text>
<text x="91.6" y="630.4" text-anchor="end">20</text>
<text x="91.6" y="544.1" text-anchor="end">30</text>
<text x="91.6" y="457.8" text-anchor="end">40</text>
<text x="91.6" y="371.4" text-anchor="end">50</text>
<text x="91.6" y="285.1" text-anchor="end">60</text>
<text x="91.6" y="198.8" text-anchor="end">70</text>
<text x="91.6" y="112.4" text-anchor="end">80</text>
<text x="91.6" y="26.1" text-anchor="end">90</text>
<text x="112.9" y="838.6" text-anchor="middle">-0.2</text>
<text x="178.2" y="838.6" text-anchor="middle">0</text>
<text x="238.6" y="838.6" text-anchor="middle">0.2</text>
<text x="299" y="838.6" text-anchor="middle">0.4</text>
<text x="359.4" y="838.6" text-anchor="middle">0.6</text>
<text x="419.8" y="838.6" text-anchor="middle">0.8</text>
<text x="480.2" y="838.6" text-anchor="middle">1</text>
<text x="540.6" y="838.6" text-anchor="middle">1.2</text>
<text x="601" y="838.6" text-anchor="middle">1.4</text>
<text x="664.7" y="842.3" text-anchor="middle">0</text>
<text x="729.3" y="842.3" text-anchor="middle">1</text>
<text x="794" y="842.3" text-anchor="middle">2</text>
<text x="858.6" y="842.3" text-anchor="middle">3</text>
<text x="923.3" y="842.3" text-anchor="middle">4</text>
<text x="987.9" y="842.3" text-anchor="middle">5</text>
<text x="1052.5" y="842.3" text-anchor="middle">6</text>
<text x="1117.2" y="842.3" text-anchor="middle">7</text>
<text x="1156.6" y="842.3" text-anchor="middle">-1</text>
<text x="1233.9" y="842.3" text-anchor="middle">-0.5</text>
<text x="1316.1" y="842.3" text-anchor="middle">0</text>
<text x="1393.4" y="842.3" text-anchor="middle">0.5</text>
<text x="1470.7" y="842.3" text-anchor="middle">1</text>
<text x="1548" y="842.3" text-anchor="middle">1.5</text>
<text x="1625.3" y="842.3" text-anchor="middle">2</text>
<text x="1702.6" y="842.3" text-anchor="middle">2.5</text>
<text x="1779.9" y="842.3" text-anchor="middle">3</text>
<text x="355" y="892.3" text-anchor="middle">iTEC (TECu)</text>
<text x="886.8" y="899.2" text-anchor="middle">Electron Density (10<tspan font-size="29px" dy="-18.7">8</tspan><tspan dy="18.7"> m</tspan><tspan font-size="29px" dy="-18.7">-3</tspan><tspan dy="18.7">)</tspan></text>
<text x="1465.5" y="899.2" text-anchor="middle">Electron Density (10<tspan font-size="29px" dy="-18.7">10</tspan><tspan dy="18.7"> m</tspan><tspan font-size="29px" dy="-18.7">-3</tspan><tspan dy="18.7">)</tspan></text>
<text transform="translate(26.5,403) rotate(-90)" text-anchor="middle">Altitude (km)</text>
<text x="430.5" y="59.8" text-anchor="end">iTEC</text>
<text x="945.5" y="59.8" text-anchor="end">LIM-Diffusion</text>
<text x="1608" y="59.3" text-anchor="end">3-Sigma</text>
<text x="1608" y="95" text-anchor="end">1-Sigma</text>
<text x="1608" y="131.1" text-anchor="end">EDP</text>
<text x="1608" y="167.1" text-anchor="end">LIM-PCE</text>
</g>
</svg></body></html>
